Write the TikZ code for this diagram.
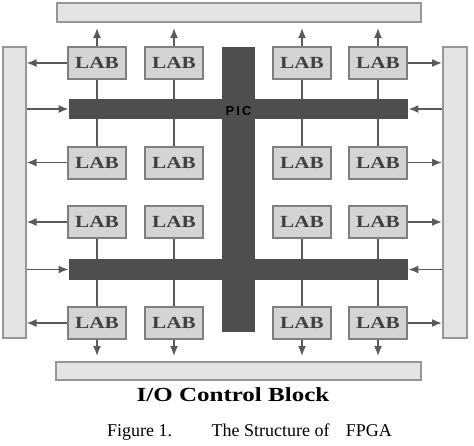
\documentclass[tikz,border=0pt]{standalone}
\usepackage{fontspec}
\setmainfont{Liberation Serif}
\newfontfamily\slabfont[FakeStretch=1.25]{Liberation Serif}
\newfontfamily\picfont{Liberation Sans}
\usetikzlibrary{arrows.meta}

\definecolor{labfill}{RGB}{212,212,212}
\definecolor{labdraw}{RGB}{128,128,128}
\definecolor{iofill}{RGB}{228,228,228}
\definecolor{iodraw}{RGB}{150,150,150}
\definecolor{picfill}{RGB}{78,78,78}
\definecolor{wire}{RGB}{90,90,90}

\begin{document}
\begin{tikzpicture}[x=0.5pt, y=-0.5pt,
    lab/.style ={rectangle, draw=labdraw, fill=labfill, line width=1pt,
                 inner sep=0pt, minimum width=29pt, minimum height=16pt,
                 font=\slabfont\bfseries\fontsize{8.5}{9}\selectfont, text=black!75},
    iobar/.style ={rectangle, draw=iodraw, fill=iofill, line width=1pt, inner sep=0pt},
    pic/.style ={rectangle, fill=picfill, inner sep=0pt},
    wire/.style ={draw=wire, line width=0.8pt},
    arr/.style ={wire, -{Latex[length=5pt,width=4pt]}}]
   \useasboundingbox (0,0) rectangle (474,445);
   % I/O control blocks
   \node[iobar, minimum width=182pt, minimum height=9.5pt] (top) at (239,12.5) {};
   \node[iobar, minimum width=182.5pt, minimum height=9pt] (bottom) at (238.5,371) {};
   \node[iobar, minimum width=11.5pt, minimum height=145.5pt] (left) at (14,192.5) {};
   \node[iobar, minimum width=12pt, minimum height=145.5pt] (right) at (455,192.5) {};
   % vertical wires behind the PIC
   \draw[wire] (97,79) -- (97,146);
   \draw[wire] (174,79) -- (174,146);
   \draw[wire] (302,79) -- (302,146);
   \draw[wire] (378,79) -- (378,146);
   \draw[wire] (97,238) -- (97,307);
   \draw[wire] (174,238) -- (174,307);
   \draw[wire] (302,238) -- (302,307);
   \draw[wire] (378,238) -- (378,307);
   % PIC
   \node[pic, minimum width=169.5pt, minimum height=10pt] (pica) at (238.5,109) {};
   \node[pic, minimum width=169.5pt, minimum height=10.5pt] (picb) at (238.5,269.5) {};
   \node[pic, minimum width=16.5pt, minimum height=142.5pt] (picv) at (238.5,189.5) {};
   \node[font=\picfont\bfseries\fontsize{6.5}{7}\selectfont] (piclabel) at (238.5,111) {P\,I\,C};
   % LABs
   \node[lab] (lab11) at (97,63) {LAB};
   \node[lab] (lab12) at (174,63) {LAB};
   \node[lab] (lab13) at (302,63) {LAB};
   \node[lab] (lab14) at (378,63) {LAB};
   \node[lab] (lab21) at (97,162.5) {LAB};
   \node[lab] (lab22) at (174,162.5) {LAB};
   \node[lab] (lab23) at (302,162.5) {LAB};
   \node[lab] (lab24) at (378,162.5) {LAB};
   \node[lab] (lab31) at (97,222) {LAB};
   \node[lab] (lab32) at (174,222) {LAB};
   \node[lab] (lab33) at (302,222) {LAB};
   \node[lab] (lab34) at (378,222) {LAB};
   \node[lab] (lab41) at (97,323) {LAB};
   \node[lab] (lab42) at (174,323) {LAB};
   \node[lab] (lab43) at (302,323) {LAB};
   \node[lab] (lab44) at (378,323) {LAB};
   % arrows to the I/O blocks
   \draw[arr, shorten >=2.5pt] (lab11.north) -- (lab11.north |- top.south);
   \draw[arr, shorten >=2.5pt] (lab12.north) -- (lab12.north |- top.south);
   \draw[arr, shorten >=2.5pt] (lab13.north) -- (lab13.north |- top.south);
   \draw[arr, shorten >=2.5pt] (lab14.north) -- (lab14.north |- top.south);
   \draw[arr, shorten >=2.5pt] (lab41.south) -- (lab41.south |- bottom.north);
   \draw[arr, shorten >=2.5pt] (lab42.south) -- (lab42.south |- bottom.north);
   \draw[arr, shorten >=2.5pt] (lab43.south) -- (lab43.south |- bottom.north);
   \draw[arr, shorten >=2.5pt] (lab44.south) -- (lab44.south |- bottom.north);
   \draw[arr] (lab11.west) -- (lab11.west -| left.east);
   \draw[arr] (lab21.west) -- (lab21.west -| left.east);
   \draw[arr] (lab31.west) -- (lab31.west -| left.east);
   \draw[arr] (lab41.west) -- (lab41.west -| left.east);
   \draw[arr] (lab14.east) -- (lab14.east -| right.west);
   \draw[arr] (lab24.east) -- (lab24.east -| right.west);
   \draw[arr] (lab34.east) -- (lab34.east -| right.west);
   \draw[arr] (lab44.east) -- (lab44.east -| right.west);
   % arrows into the PIC
   \draw[arr] (pica.west -| left.east) -- (pica.west);
   \draw[arr] (picb.west -| left.east) -- (picb.west);
   \draw[arr] (pica.east -| right.west) -- (pica.east);
   \draw[arr] (picb.east -| right.west) -- (picb.east);
   % captions
   \node[font=\slabfont\bfseries\fontsize{10}{12}\selectfont] (iolabel) at (233,395) {I/O Control Block};
   \node[font=\fontsize{9}{11}\selectfont, anchor=west] (caption) at (100,432)
     {Figure 1.\hspace{2.2em}The Structure of\hspace{0.9em}FPGA};
 \end{tikzpicture}
\end{document}
